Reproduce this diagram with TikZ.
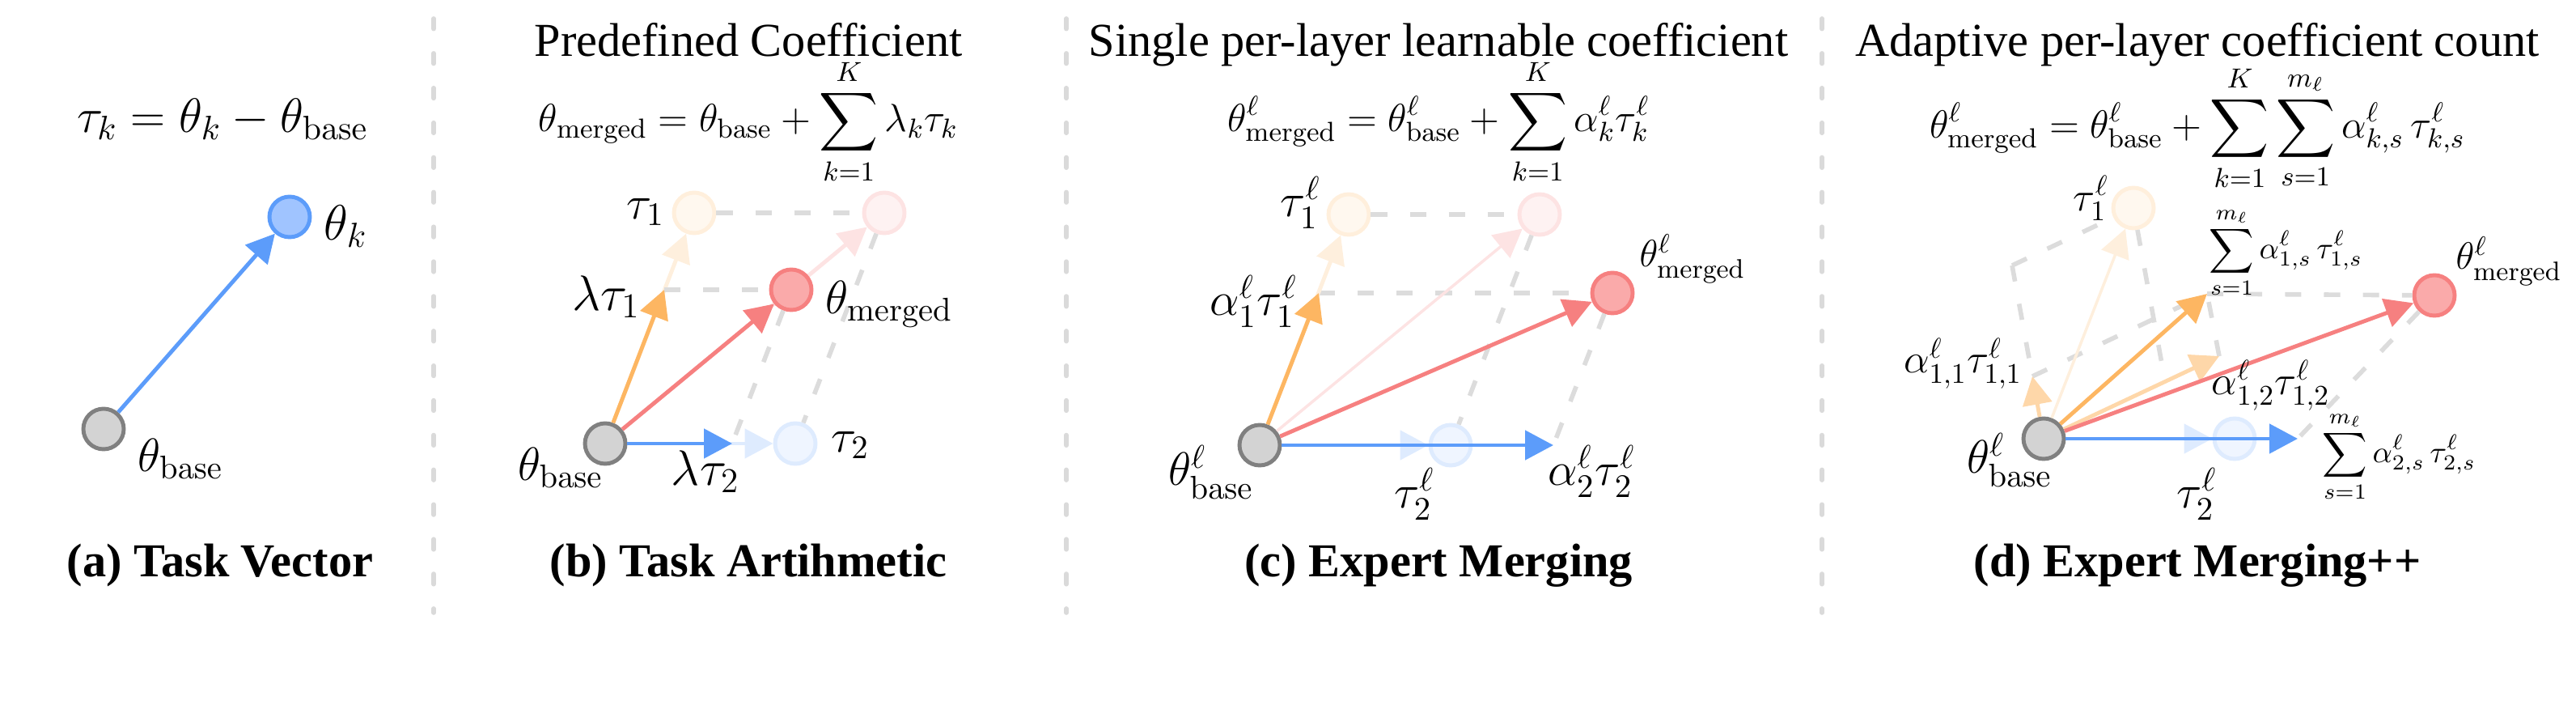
\RequirePackage{fix-cm}
\documentclass[tikz,border=0pt]{standalone}
\usepackage{amsmath}
\usepackage[no-math]{fontspec}
\setmainfont{Liberation Serif}[BoldFont={Liberation Serif Bold}]
\usetikzlibrary{arrows.meta}

\definecolor{vblue}{RGB}{92,156,250}
\definecolor{vbluefill}{RGB}{160,196,255}
\definecolor{vorange}{RGB}{253,182,98}
\definecolor{vred}{RGB}{246,128,128}
\definecolor{vredfill}{RGB}{250,170,170}
\definecolor{vgray}{RGB}{128,128,128}
\definecolor{vgrayfill}{RGB}{211,211,211}
\definecolor{vdash}{RGB}{220,220,220}
\definecolor{vsep}{RGB}{218,218,218}

\begin{document}
\begin{tikzpicture}[
  pt/.style={circle,line width=1.4pt,minimum size=5mm,inner sep=0pt},
  basept/.style={pt,draw=vgray,fill=vgrayfill},
  mergept/.style={pt,draw=vred,fill=vredfill},
  fo/.style={draw=vorange!22,fill=vorange!10},
  fb/.style={draw=vblue!20,fill=vblue!10},
  fr/.style={draw=vred!22,fill=vred!10},
  vec/.style={line width=1.4pt,-{Triangle[length=3.5mm,width=3.6mm]}},
  guide/.style={vdash,line width=1.6pt,dash pattern=on 5.7pt off 8pt},
  sep/.style={vsep,line width=1.6pt,line cap=round,dash pattern=on 3.6pt off 8.6pt},
  lab/.style={inner sep=0pt,font=\fontsize{16.5}{20}\selectfont},
  smlab/.style={inner sep=0pt,font=\fontsize{14.3}{17}\selectfont},
  sumlab/.style={inner sep=0pt,font=\fontsize{10.8}{13}\selectfont},
  head/.style={anchor=base,font=\fontsize{16.6}{20}\selectfont},
  eq/.style={font=\fontsize{13.8}{17}\selectfont},
  title/.style={anchor=base,font=\fontsize{16.6}{20}\selectfont\bfseries}]
\useasboundingbox (0,0) rectangle (31.84,8.92);

\foreach \x in {5.36,13.18,22.52}
  \draw[sep] (\x,8.69) -- (\x,1.35);

% (a)
\node[anchor=base,font=\fontsize{17}{20}\selectfont] (fa) at (2.75,7.28) {$\tau_k = \theta_k - \theta_{\mathrm{base}}$};
\node[basept] (a0) at (1.28,3.62) {};
\node[pt,draw=vblue,fill=vbluefill] (ak) at (3.58,6.24) {};
\draw[vec,vblue] (a0) -- (ak);
\node[lab,anchor=west,font=\fontsize{17.5}{20}\selectfont] (ak-l) at (4.00,6.12) {$\theta_k$};
\node[lab,anchor=west] (a0-l) at (1.70,3.25) {$\theta_{\mathrm{base}}$};
\node[title] (ta) at (2.72,1.79) {(a) Task Vector};

% (b)
\node[head] (hb) at (9.25,8.22) {Predefined Coefficient};
\node[eq] (fb) at (9.25,7.42) {$\displaystyle \theta_{\mathrm{merged}} = \theta_{\mathrm{base}} + \sum_{k=1}^{K} \lambda_k \tau_k$};
\node[basept] (b0) at (7.48,3.44) {};
\node[pt,fo] (b1) at (8.58,6.29) {};
\node[pt,fb] (b2) at (9.83,3.44) {};
\node[pt,fr] (b12) at (10.93,6.29) {};
\coordinate (b1s) at (8.21,5.34);
\coordinate (b2s) at (9.05,3.44);
\draw[guide] (b1) -- (b12);
\draw[guide] (b12) -- (b2);
\draw[vec,vorange!22] (b0) -- (b1);
\draw[vec,vblue!20] (b0) -- (b2);
\draw[vec,vred!22] (b0) -- (b12);
\node[mergept] (bm) at (9.78,5.34) {};
\draw[guide] (b1s) -- (bm);
\draw[guide] (bm) -- (b2s);
\draw[vec,vorange] (b0) -- (b1s);
\draw[vec,vblue] (b0) -- (b2s);
\draw[vec,vred] (b0) -- (bm);
\node[lab,anchor=east] (b1-l) at (8.22,6.30) {$\tau_1$};
\node[lab,anchor=east,font=\fontsize{17.5}{20}\selectfont] (b1s-l) at (7.92,5.25) {$\lambda\tau_1$};
\node[lab,anchor=west] (bm-l) at (10.20,5.16) {$\theta_{\mathrm{merged}}$};
\node[lab,anchor=east] (b0-l) at (7.46,3.14) {$\theta_{\mathrm{base}}$};
\node[lab,font=\fontsize{17.5}{20}\selectfont] (b2s-l) at (8.72,3.09) {$\lambda\tau_2$};
\node[lab,anchor=west] (b2-l) at (10.27,3.42) {$\tau_2$};
\node[title] (tb) at (9.25,1.79) {(b) Task Artihmetic};

% (c)
\node[head] (hc) at (17.78,8.22) {Single per-layer learnable coefficient};
\node[eq] (fc) at (17.78,7.42) {$\displaystyle \theta^{\ell}_{\mathrm{merged}} = \theta^{\ell}_{\mathrm{base}} + \sum_{k=1}^{K} \alpha^{\ell}_k \tau^{\ell}_k$};
\node[basept] (c0) at (15.57,3.42) {};
\node[pt,fo] (c1) at (16.67,6.27) {};
\node[pt,fb] (c2) at (17.93,3.42) {};
\node[pt,fr] (c12) at (19.03,6.27) {};
\coordinate (c1s) at (16.30,5.30);
\coordinate (c2s) at (19.20,3.42);
\node[mergept] (cm) at (19.93,5.30) {};
\draw[guide] (c1) -- (c12);
\draw[guide] (c12) -- (c2);
\draw[guide] (c1s) -- (cm);
\draw[guide] (cm) -- (c2s);
\draw[vec,vorange!22] (c0) -- (c1);
\draw[vec,vblue!20] (c0) -- (c2);
\draw[vec,vred!22,line width=1pt] (c0) -- (c12);
\draw[vec,vorange] (c0) -- (c1s);
\draw[vec,vblue] (c0) -- (c2s);
\draw[vec,vred] (c0) -- (cm);
\node[lab,anchor=east] (c1-l) at (16.33,6.42) {$\tau^{\ell}_1$};
\node[lab,anchor=east] (c1s-l) at (16.04,5.20) {$\alpha^{\ell}_1\tau^{\ell}_1$};
\node[smlab,anchor=west,font=\fontsize{13.4}{16}\selectfont] (cm-l) at (20.26,5.72) {$\theta^{\ell}_{\mathrm{merged}}$};
\node[lab,anchor=east] (c0-l) at (15.50,3.09) {$\theta^{\ell}_{\mathrm{base}}$};
\node[lab] (c2-l) at (17.48,2.82) {$\tau^{\ell}_2$};
\node[lab] (c2s-l) at (19.67,3.10) {$\alpha^{\ell}_2\tau^{\ell}_2$};
\node[title] (tc) at (17.78,1.79) {(c) Expert Merging};

% (d)
\node[head] (hd) at (27.16,8.22) {Adaptive per-layer coefficient count};
\node[eq] (fd) at (27.16,7.34) {$\displaystyle \theta^{\ell}_{\mathrm{merged}} = \theta^{\ell}_{\mathrm{base}} + \sum_{k=1}^{K}\sum_{s=1}^{m_\ell} \alpha^{\ell}_{k,s}\,\tau^{\ell}_{k,s}$};
\node[basept] (d0) at (25.26,3.50) {};
\node[pt,fo] (d1) at (26.37,6.35) {};
\node[pt,fb] (d2) at (27.62,3.50) {};
\coordinate (d11) at (24.87,5.64);
\coordinate (d12) at (26.76,4.21);
\coordinate (d11s) at (25.12,4.27);
\coordinate (d12s) at (27.43,4.52);
\coordinate (d1s) at (27.28,5.29);
\coordinate (d2s) at (28.40,3.50);
\node[mergept] (dm) at (30.09,5.27) {};
\draw[guide] (d11) -- (d1);
\draw[guide] (d11) -- (d11s);
\draw[guide] (d1) -- (d12);
\draw[guide] (d11s) -- (d1s);
\draw[guide] (d12s) -- (d1s);
\draw[guide] (d1s) -- (dm);
\draw[guide] (dm) -- (d2s);
\draw[vec,vorange!22,line width=1pt] (d0) -- (d1);
\draw[vec,vblue!20] (d0) -- (d2);
\draw[vec,vorange!55] (d0) -- (d11s);
\draw[vec,vorange!55] (d0) -- (d12s);
\draw[vec,vorange] (d0) -- (d1s);
\draw[vec,vblue] (d0) -- (d2s);
\draw[vec,vred] (d0) -- (dm);
\node[smlab,anchor=east] (d1-l) at (26.07,6.47) {$\tau^{\ell}_1$};
\node[smlab,anchor=east] (d11s-l) at (25.00,4.43) {$\alpha^{\ell}_{1,1}\tau^{\ell}_{1,1}$};
\node[smlab,anchor=west] (d12s-l) at (27.33,4.16) {$\alpha^{\ell}_{1,2}\tau^{\ell}_{1,2}$};
\node[sumlab,anchor=west] (d1s-l) at (27.30,5.80) {$\displaystyle\sum_{s=1}^{m_\ell}\alpha^{\ell}_{1,s}\,\tau^{\ell}_{1,s}$};
\node[smlab,anchor=west,font=\fontsize{13.4}{16}\selectfont] (dm-l) at (30.35,5.69) {$\theta^{\ell}_{\mathrm{merged}}$};
\node[lab,anchor=east] (d0-l) at (25.37,3.24) {$\theta^{\ell}_{\mathrm{base}}$};
\node[lab] (d2-l) at (27.15,2.82) {$\tau^{\ell}_2$};
\node[sumlab,anchor=west] (d2s-l) at (28.70,3.28) {$\displaystyle\sum_{s=1}^{m_\ell}\alpha^{\ell}_{2,s}\,\tau^{\ell}_{2,s}$};
\node[title] (td) at (27.16,1.79) {(d) Expert Merging++};
\end{tikzpicture}
\end{document}
